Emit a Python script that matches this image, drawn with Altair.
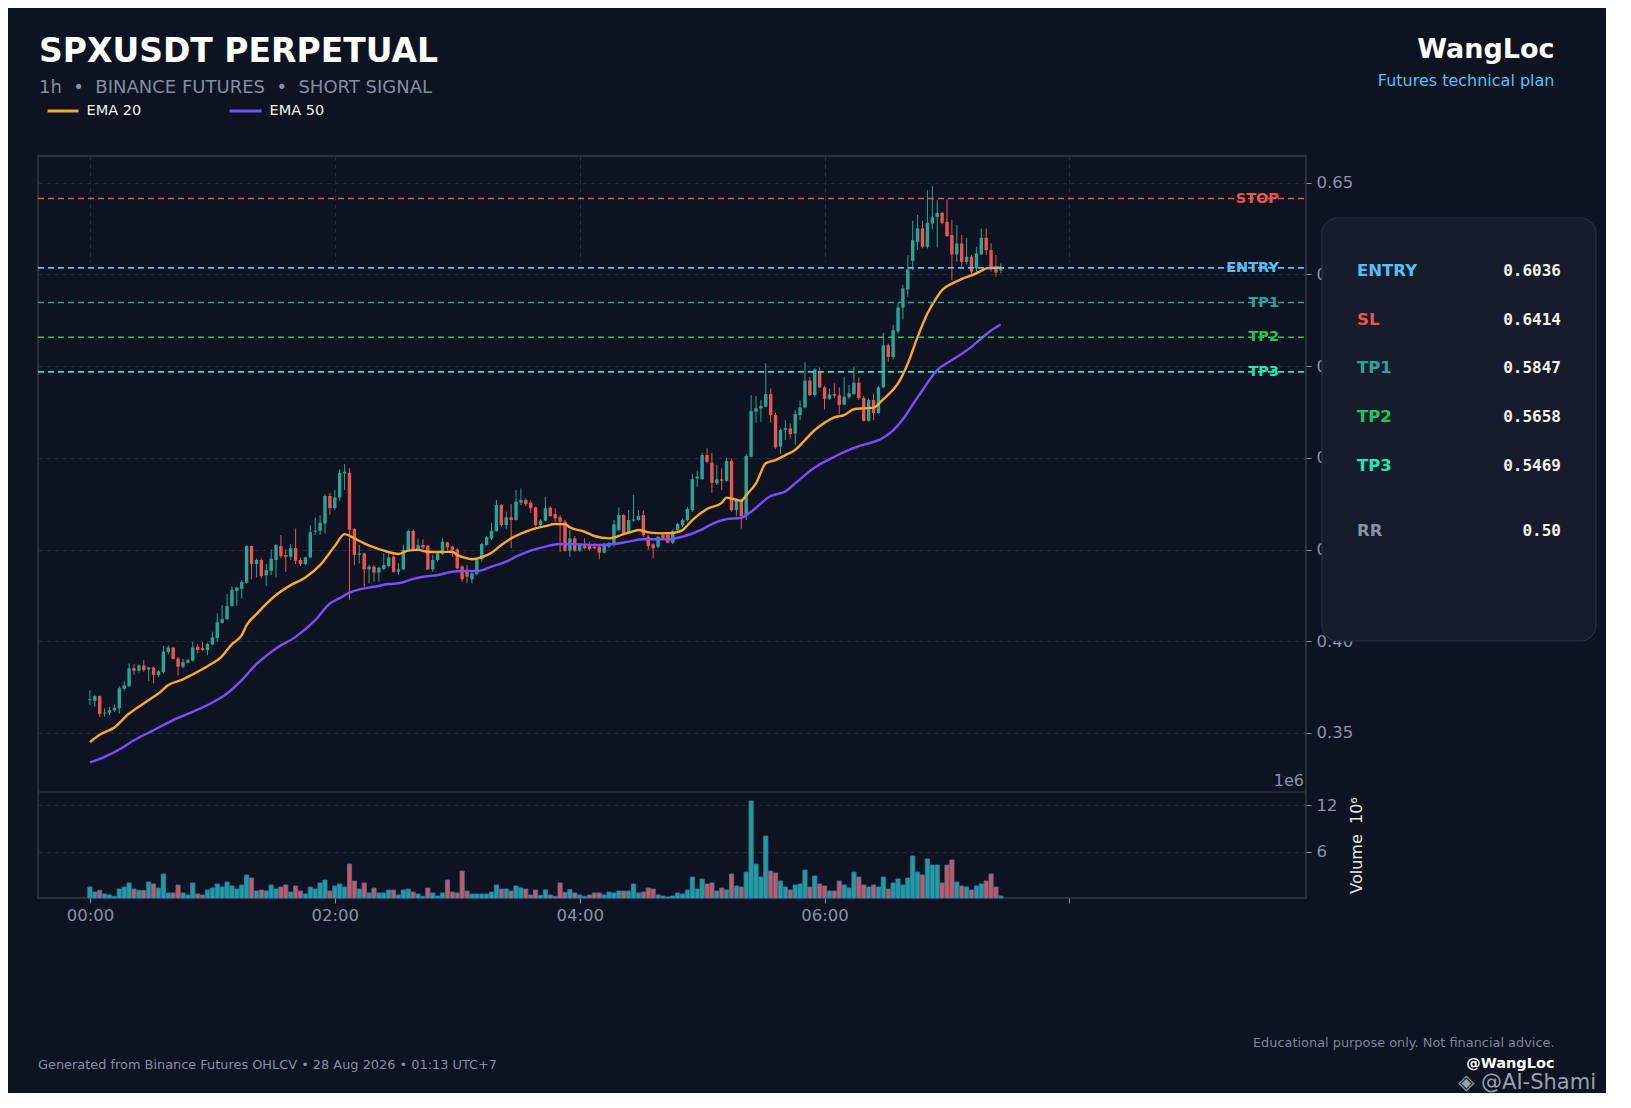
import altair as alt
import pandas as pd

# ---------------- data ----------------
opens = [0.3679,0.3675,0.3701,0.3606,0.3610,0.3624,0.3635,0.3741,0.3755,0.3853,
0.3839,0.3868,0.3846,0.3857,0.3815,0.3832,0.3941,0.3966,0.3906,0.3861,
0.3883,0.3894,0.3970,0.3963,0.3952,0.3983,0.4017,0.4101,0.4121,0.4192,
0.4275,0.4286,0.4319,0.4519,0.4421,0.4443,0.4359,0.4384,0.4443,0.4519,
0.4470,0.4461,0.4508,0.4443,0.4421,0.4457,0.4597,0.4602,0.4642,0.4792,
0.4726,0.4784,0.4915,0.4919,0.4612,0.4472,0.4479,0.4392,0.4407,0.4374,
0.4394,0.4410,0.4461,0.4379,0.4392,0.4498,0.4601,0.4501,0.4525,0.4521,
0.4392,0.4443,0.4476,0.4539,0.4516,0.4501,0.4407,0.4379,0.4338,0.4367,
0.4447,0.4525,0.4561,0.4601,0.4743,0.4634,0.4676,0.4661,0.4756,0.4770,
0.4756,0.4730,0.4634,0.4658,0.4728,0.4694,0.4676,0.4652,0.4494,0.4561,
0.4494,0.4525,0.4521,0.4516,0.4516,0.4483,0.4516,0.4525,0.4607,0.4688,
0.4592,0.4658,0.4661,0.4688,0.4570,0.4528,0.4516,0.4579,0.4579,0.4537,
0.4606,0.4633,0.4661,0.4715,0.4888,0.4884,0.5015,0.4975,0.4861,0.4883,
0.4875,0.4983,0.4715,0.4770,0.4688,0.5006,0.5252,0.5270,0.5279,0.5348,
0.5233,0.5061,0.5152,0.5160,0.5133,0.5233,0.5275,0.5421,0.5342,0.5470,
0.5384,0.5322,0.5348,0.5341,0.5290,0.5330,0.5348,0.5410,0.5326,0.5202,
0.5315,0.5245,0.5384,0.5614,0.5550,0.5689,0.5820,0.5918,0.6074,0.6178,
0.6251,0.6151,0.6278,0.6314,0.6336,0.6287,0.6215,0.6109,0.6169,0.6069,
0.6097,0.6033,0.6110,0.6200,0.6133,0.6033,0.6022]
highs = [0.3733,0.3706,0.3704,0.3634,0.3643,0.3655,0.3755,0.3781,0.3879,0.3875,
0.3875,0.3897,0.3861,0.3861,0.3843,0.3975,0.3977,0.3970,0.3915,0.3904,
0.3904,0.3995,0.3984,0.3995,0.3992,0.4052,0.4152,0.4197,0.4257,0.4301,
0.4297,0.4333,0.4524,0.4522,0.4452,0.4452,0.4421,0.4501,0.4530,0.4579,
0.4501,0.4530,0.4615,0.4457,0.4461,0.4633,0.4675,0.4686,0.4802,0.4810,
0.4824,0.4937,0.4966,0.4943,0.4616,0.4525,0.4483,0.4416,0.4416,0.4407,
0.4479,0.4479,0.4465,0.4425,0.4525,0.4610,0.4610,0.4561,0.4556,0.4525,
0.4470,0.4494,0.4561,0.4543,0.4521,0.4507,0.4416,0.4416,0.4379,0.4447,
0.4537,0.4574,0.4643,0.4770,0.4748,0.4707,0.4748,0.4825,0.4834,0.4779,
0.4767,0.4734,0.4665,0.4788,0.4737,0.4725,0.4688,0.4661,0.4607,0.4574,
0.4534,0.4561,0.4543,0.4534,0.4525,0.4537,0.4543,0.4661,0.4730,0.4694,
0.4716,0.4797,0.4716,0.4712,0.4579,0.4534,0.4574,0.4585,0.4585,0.4610,
0.4646,0.4670,0.4733,0.4912,0.4930,0.5028,0.5052,0.5028,0.4961,0.4943,
0.5001,0.4997,0.4779,0.4779,0.5021,0.5342,0.5337,0.5315,0.5515,0.5379,
0.5246,0.5161,0.5206,0.5188,0.5261,0.5312,0.5521,0.5442,0.5488,0.5493,
0.5392,0.5377,0.5406,0.5384,0.5439,0.5397,0.5497,0.5439,0.5337,0.5324,
0.5350,0.5391,0.5682,0.5624,0.5724,0.5845,0.5942,0.6105,0.6293,0.6324,
0.6293,0.6460,0.6482,0.6405,0.6342,0.6409,0.6297,0.6270,0.6215,0.6200,
0.6106,0.6151,0.6251,0.6251,0.6170,0.6106,0.6060]
lows = [0.3652,0.3643,0.3588,0.3588,0.3597,0.3615,0.3606,0.3730,0.3752,0.3817,
0.3830,0.3834,0.3784,0.3770,0.3803,0.3824,0.3930,0.3901,0.3812,0.3853,
0.3879,0.3890,0.3934,0.3948,0.3924,0.3977,0.3999,0.4097,0.4115,0.4188,
0.4193,0.4233,0.4315,0.4337,0.4348,0.4344,0.4302,0.4361,0.4348,0.4452,
0.4379,0.4443,0.4421,0.4410,0.4415,0.4452,0.4579,0.4579,0.4588,0.4690,
0.4715,0.4766,0.4824,0.4225,0.4416,0.4425,0.4298,0.4316,0.4325,0.4325,
0.4388,0.4403,0.4374,0.4361,0.4388,0.4494,0.4498,0.4498,0.4501,0.4388,
0.4379,0.4434,0.4470,0.4498,0.4461,0.4392,0.4325,0.4316,0.4316,0.4361,
0.4434,0.4519,0.4552,0.4597,0.4625,0.4610,0.4507,0.4658,0.4743,0.4737,
0.4701,0.4625,0.4628,0.4652,0.4679,0.4652,0.4488,0.4488,0.4461,0.4488,
0.4488,0.4501,0.4494,0.4501,0.4447,0.4479,0.4507,0.4516,0.4598,0.4579,
0.4588,0.4652,0.4658,0.4570,0.4498,0.4452,0.4507,0.4552,0.4534,0.4530,
0.4590,0.4624,0.4652,0.4706,0.4843,0.4879,0.4970,0.4810,0.4852,0.4824,
0.4870,0.4706,0.4683,0.4615,0.4661,0.5003,0.5192,0.5197,0.5275,0.5192,
0.5050,0.5021,0.5097,0.5106,0.5070,0.5206,0.5270,0.5337,0.5333,0.5379,
0.5264,0.5315,0.5324,0.5239,0.5286,0.5324,0.5342,0.5315,0.5197,0.5197,
0.5205,0.5240,0.5380,0.5524,0.5536,0.5678,0.5754,0.5878,0.6024,0.6133,
0.6142,0.6142,0.6245,0.6147,0.6274,0.6205,0.5969,0.6070,0.6042,0.6055,
0.6000,0.6015,0.6106,0.6106,0.6015,0.5988,0.6006]
closes = [0.3683,0.3701,0.3603,0.3610,0.3624,0.3637,0.3744,0.3759,0.3852,0.3839,
0.3868,0.3843,0.3857,0.3817,0.3837,0.3944,0.3966,0.3904,0.3861,0.3886,
0.3897,0.3966,0.3952,0.3952,0.3984,0.4021,0.4104,0.4121,0.4192,0.4279,
0.4292,0.4323,0.4519,0.4421,0.4443,0.4355,0.4388,0.4450,0.4524,0.4464,
0.4461,0.4508,0.4439,0.4421,0.4457,0.4595,0.4601,0.4646,0.4792,0.4726,
0.4784,0.4919,0.4924,0.4607,0.4470,0.4479,0.4392,0.4407,0.4374,0.4401,
0.4416,0.4456,0.4378,0.4392,0.4498,0.4601,0.4501,0.4525,0.4512,0.4392,
0.4443,0.4479,0.4543,0.4512,0.4498,0.4398,0.4338,0.4352,0.4370,0.4443,
0.4530,0.4567,0.4603,0.4743,0.4634,0.4676,0.4661,0.4761,0.4770,0.4748,
0.4725,0.4634,0.4658,0.4725,0.4683,0.4670,0.4652,0.4494,0.4561,0.4494,
0.4525,0.4507,0.4501,0.4507,0.4483,0.4525,0.4534,0.4638,0.4688,0.4585,
0.4661,0.4665,0.4683,0.4579,0.4519,0.4507,0.4570,0.4561,0.4537,0.4600,
0.4639,0.4661,0.4721,0.4884,0.4897,0.5015,0.4979,0.4864,0.4883,0.4875,
0.4983,0.4715,0.4770,0.4683,0.5010,0.5255,0.5270,0.5283,0.5348,0.5233,
0.5057,0.5152,0.5162,0.5130,0.5239,0.5275,0.5421,0.5342,0.5482,0.5384,
0.5322,0.5346,0.5339,0.5288,0.5333,0.5352,0.5410,0.5326,0.5202,0.5315,
0.5245,0.5384,0.5614,0.5550,0.5696,0.5820,0.5924,0.6027,0.6187,0.6251,
0.6151,0.6282,0.6311,0.6336,0.6282,0.6209,0.6109,0.6169,0.6069,0.6097,
0.6015,0.6115,0.6200,0.6133,0.6037,0.6011,0.6033]
volumes_m = [1.42,0.77,0.99,0.52,0.39,0.22,1.16,1.42,1.94,1.16,
0.99,0.99,2.06,1.81,1.29,3.10,0.65,0.65,1.68,0.65,
0.39,1.94,0.52,0.39,1.03,1.29,1.81,1.42,2.06,1.55,
1.16,1.68,2.97,2.58,0.90,1.03,0.90,1.68,1.16,1.42,
1.68,0.77,1.55,0.90,0.52,1.42,1.16,1.94,2.32,0.90,
1.55,1.81,1.42,4.39,2.19,1.16,1.94,0.65,1.29,0.65,
0.65,1.03,1.03,0.39,1.03,1.16,0.77,0.52,0.22,1.29,
0.65,0.26,0.65,2.32,0.77,0.65,3.48,0.90,0.52,0.52,
0.52,0.52,0.77,1.68,1.16,1.16,0.90,1.55,1.29,1.16,
0.39,1.03,0.35,1.05,0.39,0.22,1.94,0.73,1.08,0.65,
0.39,0.22,0.39,0.65,0.65,0.39,0.77,0.65,0.90,0.90,
0.90,1.81,0.65,0.77,1.29,1.16,0.39,0.26,0.13,0.26,
0.65,0.52,1.03,2.71,1.16,2.45,1.81,1.94,0.90,1.29,
1.03,3.10,1.55,1.42,3.35,12.52,4.39,2.71,8.00,3.48,
3.23,2.19,1.42,1.03,1.68,1.81,3.61,1.42,2.84,1.81,
1.55,0.90,0.90,2.19,1.68,1.29,3.35,2.71,1.68,1.42,
1.68,1.42,2.71,1.16,1.94,2.45,1.68,2.58,5.42,3.35,
2.97,5.03,4.26,4.26,1.94,4.26,4.90,2.06,1.55,1.42,
1.03,1.55,1.81,2.19,3.10,1.42,0.26]

ema20_idx = [0,2,5,8,10,13,14,16,19,20,24,27,29,31,32,34,38,41,44,47,50,52,54,56,58,60,63,65,67,69,71,74,75,77,78,80,82,84,86,89,91,93,95,97,98,101,103,106,108,109,110,112,114,117,119,121,123,126,129,130,133,134,136,138,140,142,144,146,148,150,152,154,156,158,160,162,163,165,167,169,171,173,174,176,178,180,182,183,185,186]
ema20_val = [0.3450,0.3490,0.3530,0.3606,0.3643,0.3697,0.3715,0.3761,0.3792,0.3806,0.3864,0.3919,0.3984,0.4033,0.4088,0.4148,0.4252,0.4306,0.4348,0.4415,0.4519,0.4584,0.4561,0.4534,0.4512,0.4494,0.4476,0.4494,0.4498,0.4488,0.4487,0.4488,0.4470,0.4452,0.4447,0.4458,0.4483,0.4525,0.4561,0.4598,0.4616,0.4628,0.4639,0.4638,0.4621,0.4597,0.4574,0.4561,0.4574,0.4585,0.4592,0.4607,0.4594,0.4588,0.4590,0.4606,0.4661,0.4721,0.4755,0.4783,0.4766,0.4797,0.4861,0.4970,0.4988,0.5015,0.5043,0.5097,0.5152,0.5192,0.5221,0.5233,0.5265,0.5270,0.5274,0.5320,0.5345,0.5406,0.5515,0.5660,0.5787,0.5878,0.5915,0.5950,0.5975,0.5995,0.6020,0.6033,0.6037,0.6037]
ema50_idx = [0,3,6,9,13,17,21,25,28,31,34,38,42,46,49,51,53,55,58,61,63,66,68,71,74,76,79,82,85,87,90,93,96,100,104,107,110,113,118,121,125,127,130,133,135,139,142,144,148,152,155,157,159,162,164,166,168,170,173,176,180,182,184,186]
ema50_val = [0.3339,0.3370,0.3410,0.3460,0.3515,0.3570,0.3615,0.3666,0.3715,0.3788,0.3875,0.3961,0.4024,0.4115,0.4206,0.4235,0.4265,0.4283,0.4297,0.4312,0.4316,0.4340,0.4352,0.4361,0.4379,0.4383,0.4383,0.4407,0.4434,0.4461,0.4494,0.4516,0.4530,0.4528,0.4525,0.4530,0.4543,0.4556,0.4556,0.4570,0.4610,0.4639,0.4666,0.4673,0.4706,0.4792,0.4817,0.4861,0.4948,0.5006,0.5043,0.5064,0.5079,0.5110,0.5150,0.5210,0.5290,0.5369,0.5478,0.5533,0.5605,0.5651,0.5695,0.5727]

level_names = ["STOP", "ENTRY", "TP1", "TP2", "TP3"]
level_prices = [0.6414, 0.6036, 0.5847, 0.5658, 0.5469]
level_colors = ["#ef5350", "#4fc3f7", "#26a69a", "#22c55e", "#1de9b6"]

box_labels = ["ENTRY", "SL", "TP1", "TP2", "TP3", "RR"]
box_values = ["0.6036", "0.6414", "0.5847", "0.5658", "0.5469", "0.50"]
box_colors = ["#4fc3f7", "#ef5350", "#26a69a", "#22c55e", "#1de9b6", "#8a92a5"]

tick_idx = [0, 50, 100, 150, 200]
tick_labels = ["00:00", "02:00", "04:00", "06:00", ""]
price_ticks = [0.35, 0.40, 0.45, 0.50, 0.55, 0.60, 0.65]
vol_ticks = [6, 12]

# ---------------- styling / layout ----------------
BG = "#0d1320"
GRID = "#262d3b"
AXIS_TXT = "#8a92a5"
TEAL = "#26a69a"
RED = "#ef5350"
FONT = "DejaVu Sans"
MONO = "DejaVu Sans Mono"
NB = "\u00a0"

W = 1268
H_PRICE = 636
H_VOL = 106
H = H_PRICE + H_VOL

df = pd.DataFrame({"i": list(range(len(opens))), "open": opens, "high": highs,
                   "low": lows, "close": closes, "vol": volumes_m})
df_e20 = pd.DataFrame({"i": ema20_idx, "v": ema20_val})
df_e50 = pd.DataFrame({"i": ema50_idx, "v": ema50_val})
df_lv = pd.DataFrame({"name": level_names, "price": level_prices})
one = pd.DataFrame({"k": [0]})

label_expr = "''"
for v, lab in reversed(list(zip(tick_idx, tick_labels))):
    label_expr = f"datum.value == {v} ? '{lab}' : {label_expr}"

x_scale = alt.Scale(domain=[-10.6, 248.3], nice=False, zero=False, padding=0)
X_AX = alt.Axis(values=tick_idx, labelExpr=label_expr, title=None, grid=True,
                gridDash=[4, 4], gridColor=GRID, gridWidth=1, domain=False,
                tickSize=5, tickColor=AXIS_TXT, labelColor=AXIS_TXT,
                labelFontSize=16.5, labelFont=FONT, labelPadding=4)
X = alt.X("i:Q", scale=x_scale, axis=X_AX)

p_scale = alt.Scale(domain=[0.3178, 0.6646], range=[H_PRICE, 0], nice=False, zero=False)
Y_AX = alt.Axis(orient="right", values=price_ticks, format=".2f", title=None,
                grid=True, gridDash=[4, 4], gridColor=GRID, gridWidth=1,
                domain=False, tickSize=5, tickColor=AXIS_TXT, labelColor=AXIS_TXT,
                labelFontSize=16.5, labelFont=FONT, labelPadding=5)

def PY(field):
    return alt.Y(field, scale=p_scale, axis=Y_AX)

up_color = alt.condition("datum.close >= datum.open", alt.value(TEAL), alt.value(RED))

base = alt.Chart(df)
wicks = base.mark_rule(strokeWidth=1).encode(x=X, y=PY("low:Q"), y2="high:Q", color=up_color)
bodies = base.transform_calculate(
    blo="min(datum.open, datum.close)",
    bhi="max(max(datum.open, datum.close), min(datum.open, datum.close) + 0.0005)",
).mark_bar(size=3.4).encode(x=X, y=PY("blo:Q"), y2="bhi:Q", color=up_color)

ema20 = alt.Chart(df_e20).mark_line(color="#ffa726", strokeWidth=2.4, interpolate="monotone").encode(
    x=X, y=PY("v:Q"))
ema50 = alt.Chart(df_e50).mark_line(color="#7c4dff", strokeWidth=2.4, interpolate="monotone").encode(
    x=X, y=PY("v:Q"))

lv_color = alt.Color("name:N", scale=alt.Scale(domain=level_names, range=level_colors), legend=None)
lv_rules = alt.Chart(df_lv).mark_rule(strokeWidth=1.6, strokeDash=[6, 4]).encode(
    x=alt.value(0), x2=alt.value(W), y=PY("price:Q"), color=lv_color)
lv_text = alt.Chart(df_lv).mark_text(align="right", baseline="middle", fontWeight="bold",
                                     fontSize=14.5, font=FONT).encode(
    x=alt.value(W - 27), y=PY("price:Q"), text="name:N", color=lv_color)

price_group = alt.layer(wicks, bodies, ema50, ema20, lv_rules, lv_text)

vol_scale = alt.Scale(domain=[0, 13.68], range=[H, H_PRICE], nice=False, zero=True)
V_AX = alt.Axis(orient="right", values=vol_ticks, format="d", title=f"Volume{NB}{NB}10⁶",
                titleColor="#e6e6e6", titleFontSize=16, titleFont=FONT, titleFontWeight="normal",
                titleAngle=270, titleX=50, titleY=H_PRICE + H_VOL / 2, titleAlign="center",
                titleBaseline="middle",
                grid=True, gridDash=[4, 4], gridColor=GRID, gridWidth=1, domain=False,
                tickSize=5, tickColor=AXIS_TXT, labelColor=AXIS_TXT, labelFontSize=16.5,
                labelFont=FONT, labelPadding=5)
vol_bars = base.mark_bar(size=4.2, stroke="#2b7fc0", strokeWidth=0.9, opacity=0.95).encode(
    x=X, y=alt.Y("vol:Q", scale=vol_scale, axis=V_AX), color=up_color)

separator = alt.Chart(one).mark_rule(color="#2b303b", strokeWidth=1.5).encode(
    x=alt.value(0), x2=alt.value(W), y=alt.value(H_PRICE))

offset_txt = alt.Chart(one).mark_text(align="right", baseline="middle", fontSize=16,
                                      font=FONT, color=AXIS_TXT, text="1e6").encode(
    x=alt.value(W - 2), y=alt.value(H_PRICE - 11))

# info box
box = alt.Chart(one).mark_rect(fill="#161c2b", stroke="#2a3142", strokeWidth=1.2,
                               cornerRadius=16).encode(
    x=alt.value(W + 16), x2=alt.value(W + 290), y=alt.value(62), y2=alt.value(485))

box_layers = []
row_y = [115 + 48.7 * k for k in range(5)] + [374.7]
for lab, val, col, yy in zip(box_labels, box_values, box_colors, row_y):
    d = pd.DataFrame({"lab": [lab], "val": [val]})
    box_layers.append(alt.Chart(d).mark_text(align="left", baseline="middle", fontSize=16.5,
                                             fontWeight="bold", font=FONT, color=col).encode(
        x=alt.value(W + 51), y=alt.value(yy), text="lab:N"))
    box_layers.append(alt.Chart(d).mark_text(align="right", baseline="middle", fontSize=16,
                                             fontWeight="bold", font=MONO, color="#f2f2f2").encode(
        x=alt.value(W + 255), y=alt.value(yy), text="val:N"))

# header
def txt(s, x, y, size, color, weight="normal", align="left", baseline="alphabetic", font=FONT, opacity=1):
    return alt.Chart(one).mark_text(text=s, align=align, baseline=baseline, fontSize=size,
                                    fontWeight=weight, font=font, color=color,
                                    opacity=opacity).encode(x=alt.value(x), y=alt.value(y))

title = txt("SPXUSDT PERPETUAL", 1, -94, 33, "#ffffff", weight="bold")
subtitle = txt(f"1h{NB}{NB}•{NB}{NB}BINANCE FUTURES{NB}{NB}•{NB}{NB}SHORT SIGNAL", 1, -63, 18, "#858da0")
leg_l1 = alt.Chart(one).mark_rule(color="#ffa726", strokeWidth=3).encode(
    x=alt.value(9.5), x2=alt.value(40.5), y=alt.value(-45))
leg_t1 = txt("EMA 20", 48.5, -45, 14.5, "#f2f2f2", baseline="middle")
leg_l2 = alt.Chart(one).mark_rule(color="#7c4dff", strokeWidth=3).encode(
    x=alt.value(191.5), x2=alt.value(223.5), y=alt.value(-45))
leg_t2 = txt("EMA 50", 231.5, -45, 14.5, "#f2f2f2", baseline="middle")
brand = txt("WangLoc", W + 248.5, -98, 27, "#ffffff", weight="bold", align="right")
brand_sub = txt("Futures technical plan", W + 248.5, -70, 16, "#4fc3f7", align="right")

footer_l = txt("Generated from Binance Futures OHLCV • 28 Aug 2026 • 01:13 UTC+7", 0, 909, 12.9,
               "#858da0", baseline="middle")
footer_r = txt("Educational purpose only. Not financial advice.", W + 248.5, 887, 12.9,
               "#7d8597", align="right", baseline="middle")
footer_h = txt("@WangLoc", W + 248.5, 908, 14.5, "#ffffff", weight="bold", align="right",
               baseline="middle")
watermark = txt("◈ @AI-Shami", W + 290, 927, 21, "#c9ced8", align="right", baseline="middle",
                opacity=0.75)

chart = alt.layer(
    vol_bars, price_group, separator, offset_txt, box, *box_layers,
    title, subtitle, leg_l1, leg_t1, leg_l2, leg_t2, brand, brand_sub,
    footer_l, footer_r, footer_h, watermark,
).resolve_scale(y="independent").properties(
    width=W, height=H,
    autosize=alt.AutoSizeParams(type="none"),
    padding={"left": 30, "top": 148, "right": 300, "bottom": 195},
).configure(background=BG).configure_view(stroke="#2b303b", strokeWidth=2, fill=BG)

chart.save("out.html", embed_options={"renderer": "svg", "actions": False})
